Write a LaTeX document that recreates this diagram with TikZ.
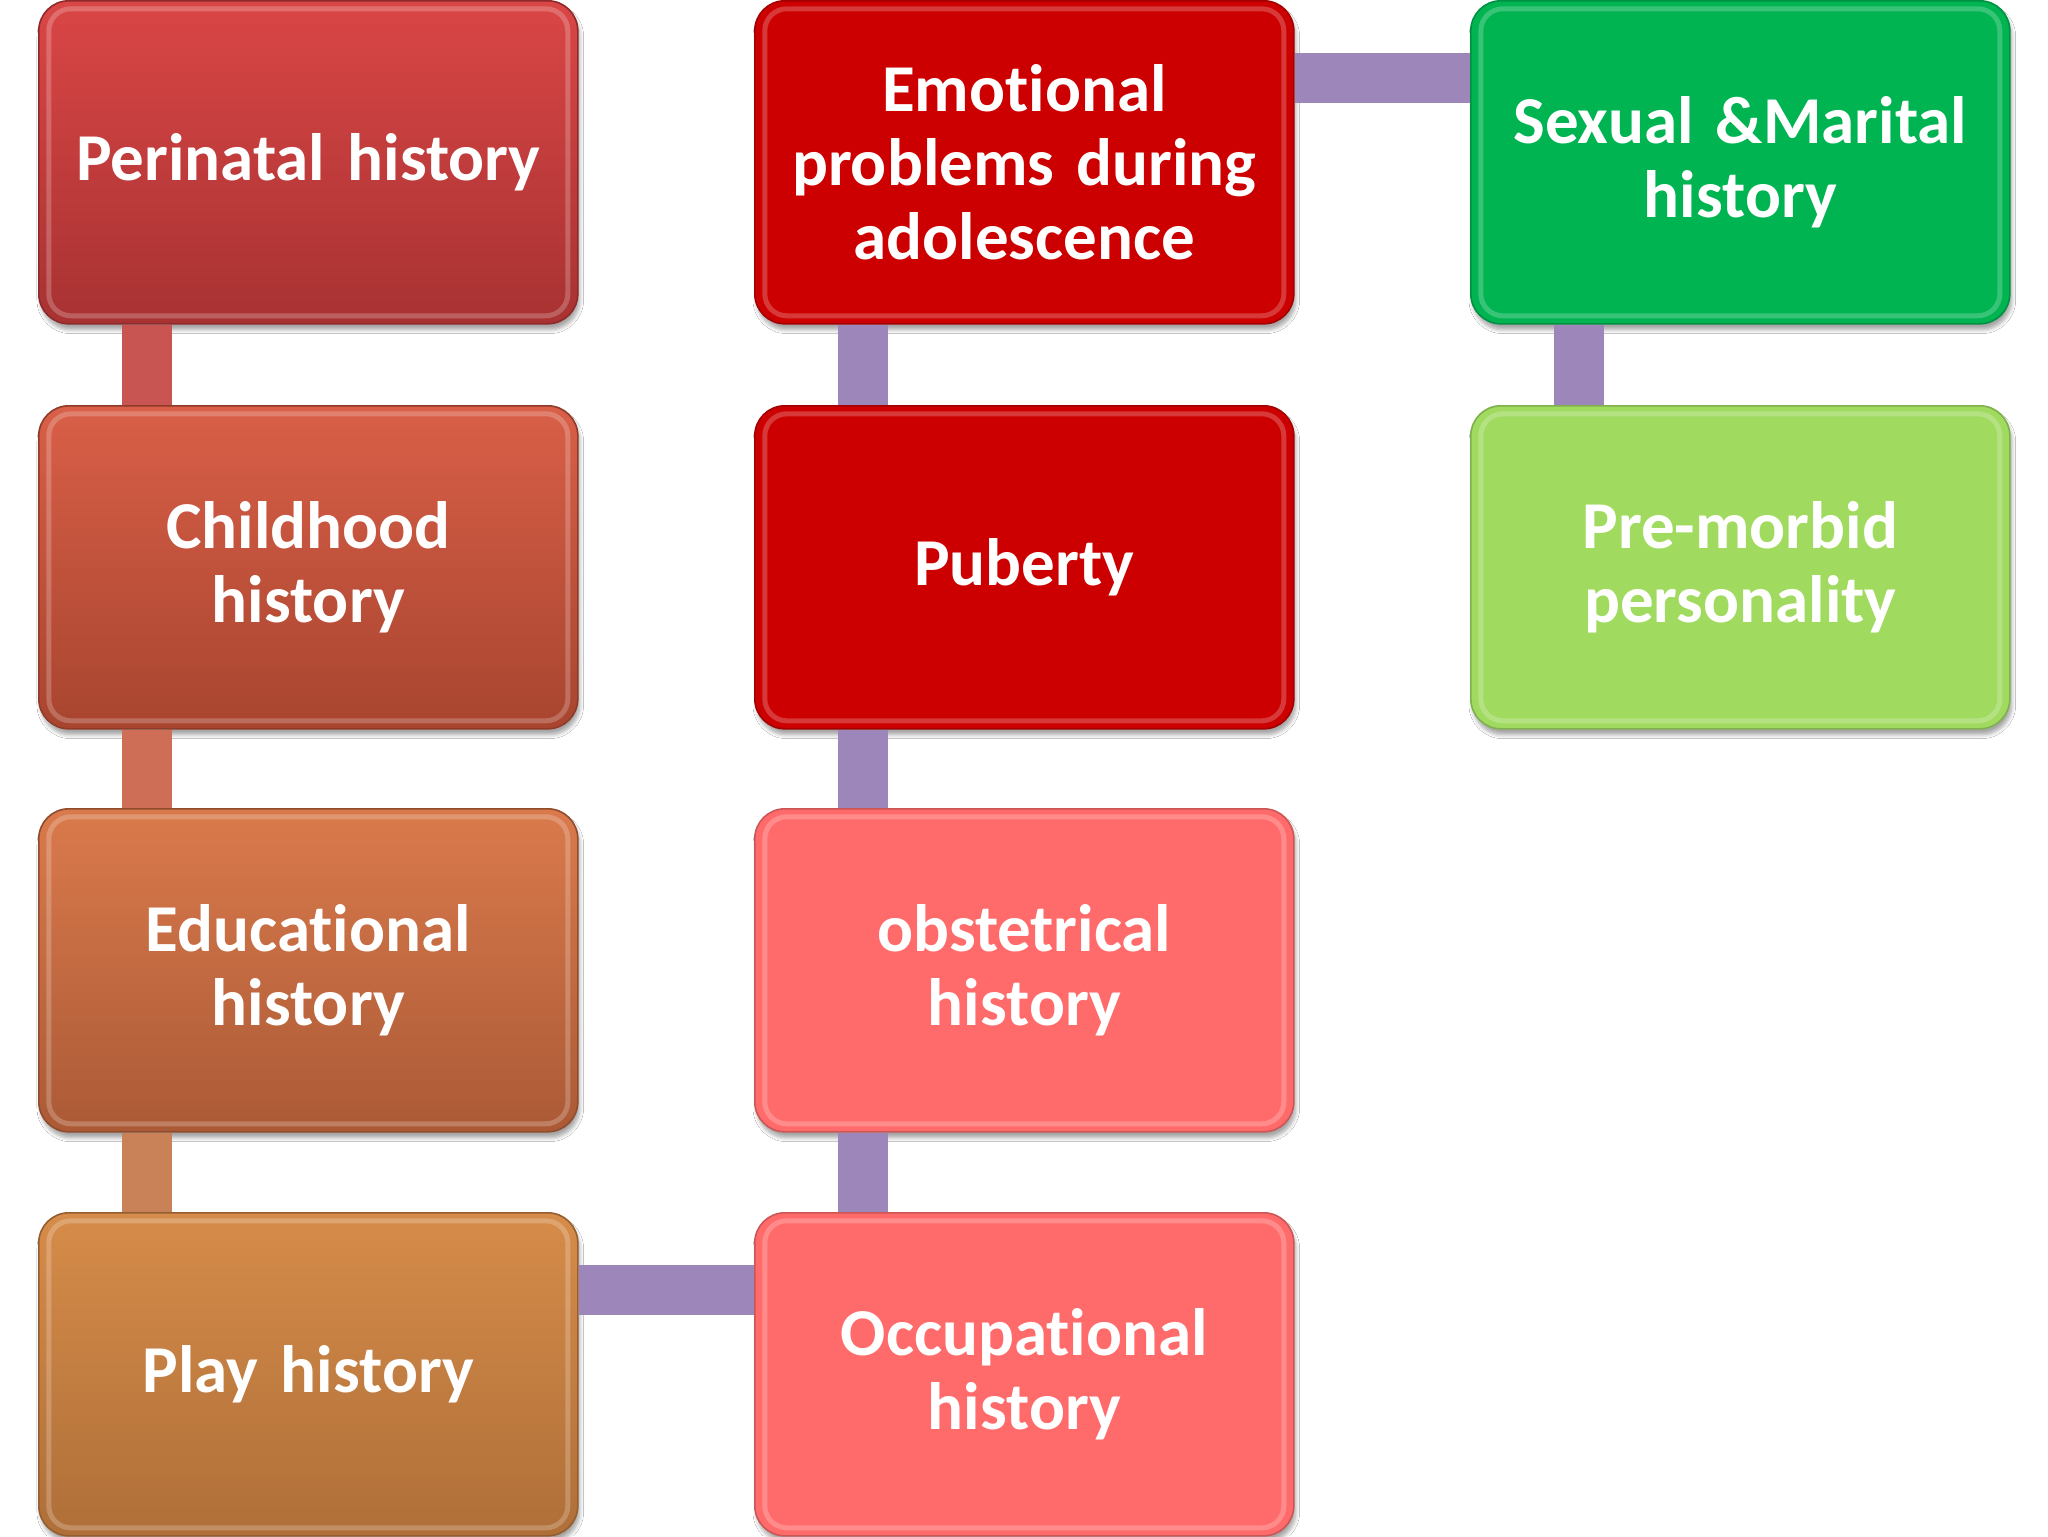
\documentclass[tikz,border=0pt]{standalone}
\usepackage{fontspec}
\setmainfont{Carlito}[Ligatures={NoCommon,NoContextual}, WordSpace=0.7]
\usetikzlibrary{shadows.blur,calc}
\definecolor{cPeriT}{HTML}{DA4646}\definecolor{cPeriB}{HTML}{A83232}
\definecolor{cChildT}{HTML}{D95F48}\definecolor{cChildB}{HTML}{A8452F}
\definecolor{cEduT}{HTML}{DA7A4C}\definecolor{cEduB}{HTML}{AB5A36}
\definecolor{cPlayT}{HTML}{D68C4A}\definecolor{cPlayB}{HTML}{AF6F38}
\definecolor{cRed}{HTML}{CC0000}
\definecolor{cPink}{HTML}{FF6B6B}
\definecolor{cGreen}{HTML}{00B452}
\definecolor{cLime}{HTML}{A0DB60}
\definecolor{cPurple}{HTML}{9C86BA}
\definecolor{cBarA}{HTML}{C95553}
\definecolor{cBarB}{HTML}{CF6E57}
\definecolor{cBarC}{HTML}{C98257}
\tikzset{
  hbox/.style={rounded corners=15pt, minimum width=269.5pt, minimum height=161.5pt,
    text width=255pt, align=center, inner sep=0pt, anchor=north west,
    font=\fontsize{33.5}{37}\selectfont\bfseries, text=white,
    blur shadow={shadow xshift=1pt, shadow yshift=-3pt, shadow blur steps=6, shadow opacity=35},
    path picture={\draw[white, opacity=0.22, line width=2.5pt, rounded corners=11pt]
      ([shift={(5pt,-4pt)}]path picture bounding box.north west) rectangle
      ([shift={(-5pt,4pt)}]path picture bounding box.south east);}},
  grad/.style 2 args={hbox, top color=#1, bottom color=#2, draw=#2!85!black, line width=0.8pt},
  flat/.style={hbox, fill=#1, draw=#1!80!black, line width=0.8pt},
  bar/.style={draw=#1, line width=25pt}
}
\begin{document}
\begin{tikzpicture}[x=0.5pt, y=-0.5pt]
\fill[white] (0,0) rectangle (2048,1536);
\useasboundingbox (0,0) rectangle (2048,1536);
% column 1
\node[grad={cPeriT}{cPeriB}] (peri) at (38,0) {Perinatal history};
\node[grad={cChildT}{cChildB}] (child) at (38,405) {Childhood\\history};
\node[grad={cEduT}{cEduB}] (edu) at (38,808) {Educational\\history};
\node[grad={cPlayT}{cPlayB}] (play) at (38,1212) {Play history};
% column 2
\node[flat=cRed] (emo) at (754,0) {Emotional\\problems during\\adolescence};
\node[flat=cRed] (pub) at (754,405) {Puberty};
\node[flat=cPink] (obs) at (754,808) {obstetrical\\history};
\node[flat=cPink] (occ) at (754,1212) {Occupational\\history};
% column 3
\node[flat=cGreen] (sex) at (1470,0) {Sexual \&Marital\\history};
\node[flat=cLime] (pre) at (1470,405) {Pre-morbid\\personality};
% connectors
\draw[bar=cBarA] ($(peri.south west)+(109,0)$) -- ($(child.north west)+(109,0)$);
\draw[bar=cBarB] ($(child.south west)+(109,0)$) -- ($(edu.north west)+(109,0)$);
\draw[bar=cBarC] ($(edu.south west)+(109,0)$) -- ($(play.north west)+(109,0)$);
\draw[bar=cPurple] ($(play.north east)+(0,78)$) -- ($(occ.north west)+(0,78)$);
\draw[bar=cPurple] ($(occ.north west)+(109,0)$) -- ($(obs.south west)+(109,0)$);
\draw[bar=cPurple] ($(obs.north west)+(109,0)$) -- ($(pub.south west)+(109,0)$);
\draw[bar=cPurple] ($(pub.north west)+(109,0)$) -- ($(emo.south west)+(109,0)$);
\draw[bar=cPurple] ($(emo.north east)+(0,78)$) -- ($(sex.north west)+(0,78)$);
\draw[bar=cPurple] ($(sex.south west)+(109,0)$) -- ($(pre.north west)+(109,0)$);
\end{tikzpicture}
\end{document}
